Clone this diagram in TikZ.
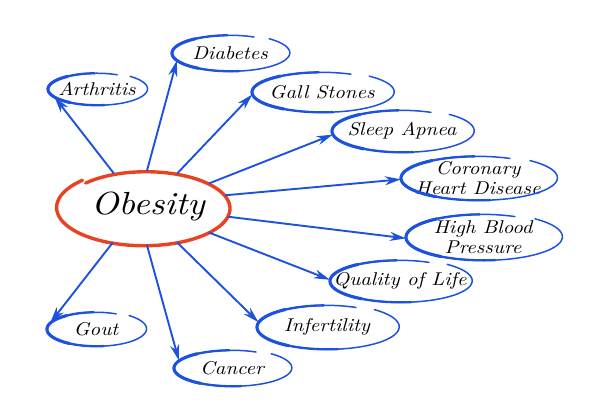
\documentclass[tikz,border=0pt]{standalone}
\usepackage{fontspec}
\newfontfamily\handfont{lmroman10-italic.otf}[FakeStretch=1.12]
\usetikzlibrary{arrows.meta,shapes.geometric}
\definecolor{blueL}{RGB}{28,82,222}
\definecolor{redL}{RGB}{232,66,32}
\tikzset{
  shapebox/.style={ellipse, draw=none, inner sep=0pt},
  lab/.style={inner sep=0pt, align=center, text=black,
    font=\fontsize{18.5}{20.5}\selectfont\handfont},
  ring/.style={draw=blueL, line width=1.5pt, line cap=round, line join=round},
  arr/.style={draw=blueL, line width=1.9pt, -{Stealth[length=16pt,width=9pt,inset=5pt]}},
}
% name, x, y, rx, ry, text
\newcommand\bub[6]{%
  \node[shapebox, minimum width={2*#4pt}, minimum height={2*#5pt}] (#1) at (#2,#3) {};
  \node[lab] (#1t) at (#1.center) {#6};
  \begin{scope}[shift={(#2,#3)}]
    \draw[ring] plot[domain=0:1, samples=100, smooth]
      ({#4*(0.98+0.06*\x)*cos(65+345*\x)}, {#5*(0.98+0.06*\x)*sin(65+345*\x)});
    \draw[ring, line width=2.3pt] plot[domain=0.08:0.62, samples=50, smooth]
      ({#4*(0.98+0.06*\x)*cos(65+345*\x)}, {#5*(0.98+0.06*\x)*sin(65+345*\x)});
    \draw[ring, line width=3.1pt] plot[domain=0.18:0.5, samples=40, smooth]
      ({#4*(0.98+0.06*\x)*cos(65+345*\x)}, {#5*(0.98+0.06*\x)*sin(65+345*\x)});
  \end{scope}
}
\begin{document}
\begin{tikzpicture}[x=1pt,y=1pt]
\useasboundingbox (0,0) rectangle (600,414);
% central node
\node[shapebox, minimum width=170pt, minimum height=74pt] (ob) at (145,206) {};
\node[lab, font=\fontsize{32}{34}\selectfont\handfont] (obt) at (148,207) {Obesity};
\begin{scope}[shift={(145,206)}]
  \draw[draw=redL, line width=3.4pt, line cap=round] plot[domain=0:1, samples=120, smooth]
    ({85*(0.97+0.08*\x)*cos(136-362*\x)}, {37*(0.97+0.08*\x)*sin(136-362*\x)});
\end{scope}
% outer nodes
\bub{arth}{97}{325}{49}{16}{Arthritis}
\bub{diab}{230}{361}{58}{18}{Diabetes}
\bub{gall}{322}{322}{70}{20}{Gall Stones}
\bub{sleep}{402}{283}{70}{21}{Sleep Apnea}
\bub{cor}{478}{236}{77}{22}{Coronary\\Heart Disease}
\bub{hbp}{483}{177}{77}{23}{High Blood\\Pressure}
\bub{qol}{400}{133}{70}{21}{Quality of Life}
\bub{inf}{327}{87}{70}{22}{Infertility}
\bub{canc}{232}{46}{58}{18}{Cancer}
\bub{gout}{96}{85}{49}{17}{Gout}
% connectors
\draw[arr] (ob.132) -- (arth.191);
\draw[arr] (ob.87) -- (diab.188);
\draw[arr] (ob.47) -- (gall.182);
\draw[arr] (ob.21) -- (sleep.183);
\draw[arr] (ob.9) -- (cor.181);
\draw[arr] (ob.-6) -- (hbp.181);
\draw[arr] (ob.-21) -- (qol.179);
\draw[arr] (ob.-47) -- (inf.176);
\draw[arr] (ob.-87) -- (canc.172);
\draw[arr] (ob.-133) -- (gout.172);
\end{tikzpicture}
\end{document}
